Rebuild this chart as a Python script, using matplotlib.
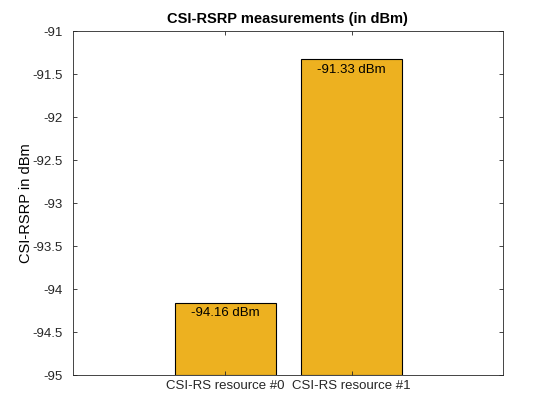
import numpy as np
import matplotlib
matplotlib.use("Agg")
import matplotlib.pyplot as plt

plt.rcParams['font.family'] = ['Liberation Sans', 'DejaVu Sans']

categories = ["CSI-RS resource #0", "CSI-RS resource #1"]
rsrp_values = [-94.16, -91.33]
y_ticks = [-95, -94.5, -94, -93.5, -93, -92.5, -92, -91.5, -91]
y_tick_labels = ["-95", "-94.5", "-94", "-93.5", "-93", "-92.5", "-92", "-91.5", "-91"]

fig = plt.figure(figsize=(5.6, 4.2), dpi=100)
ax = fig.add_axes([0.13, 0.107, 0.768, 0.819])

x = np.arange(1, len(categories) + 1)
ax.bar(x, np.array(rsrp_values) + 95, bottom=-95, width=0.8,
       color='#EDB120', edgecolor='black', linewidth=0.8)

for xi, v in zip(x, rsrp_values):
    ax.annotate("%.2f dBm" % v, (xi, v), xytext=(0, -3), textcoords='offset points',
                ha='center', va='top', fontsize=9.5)

ax.set_xlim(-0.21, 3.2)
ax.set_ylim(-95, -91)
ax.set_xticks(x)
ax.set_xticklabels(categories, fontsize=9.5)
ax.set_yticks(y_ticks)
ax.set_yticklabels(y_tick_labels, fontsize=9.5)
ax.tick_params(direction='in', length=3, width=0.6, top=True, right=True, colors='#262626')
ax.tick_params(axis='y', pad=7)
for s in ax.spines.values():
    s.set_linewidth(0.6)
    s.set_color('#262626')

ax.set_ylabel("CSI-RSRP in dBm", fontsize=10.5, labelpad=0)
ax.set_title("CSI-RSRP measurements (in dBm)", fontsize=10.5, fontweight='bold')

fig.savefig("out.png", dpi=100)
